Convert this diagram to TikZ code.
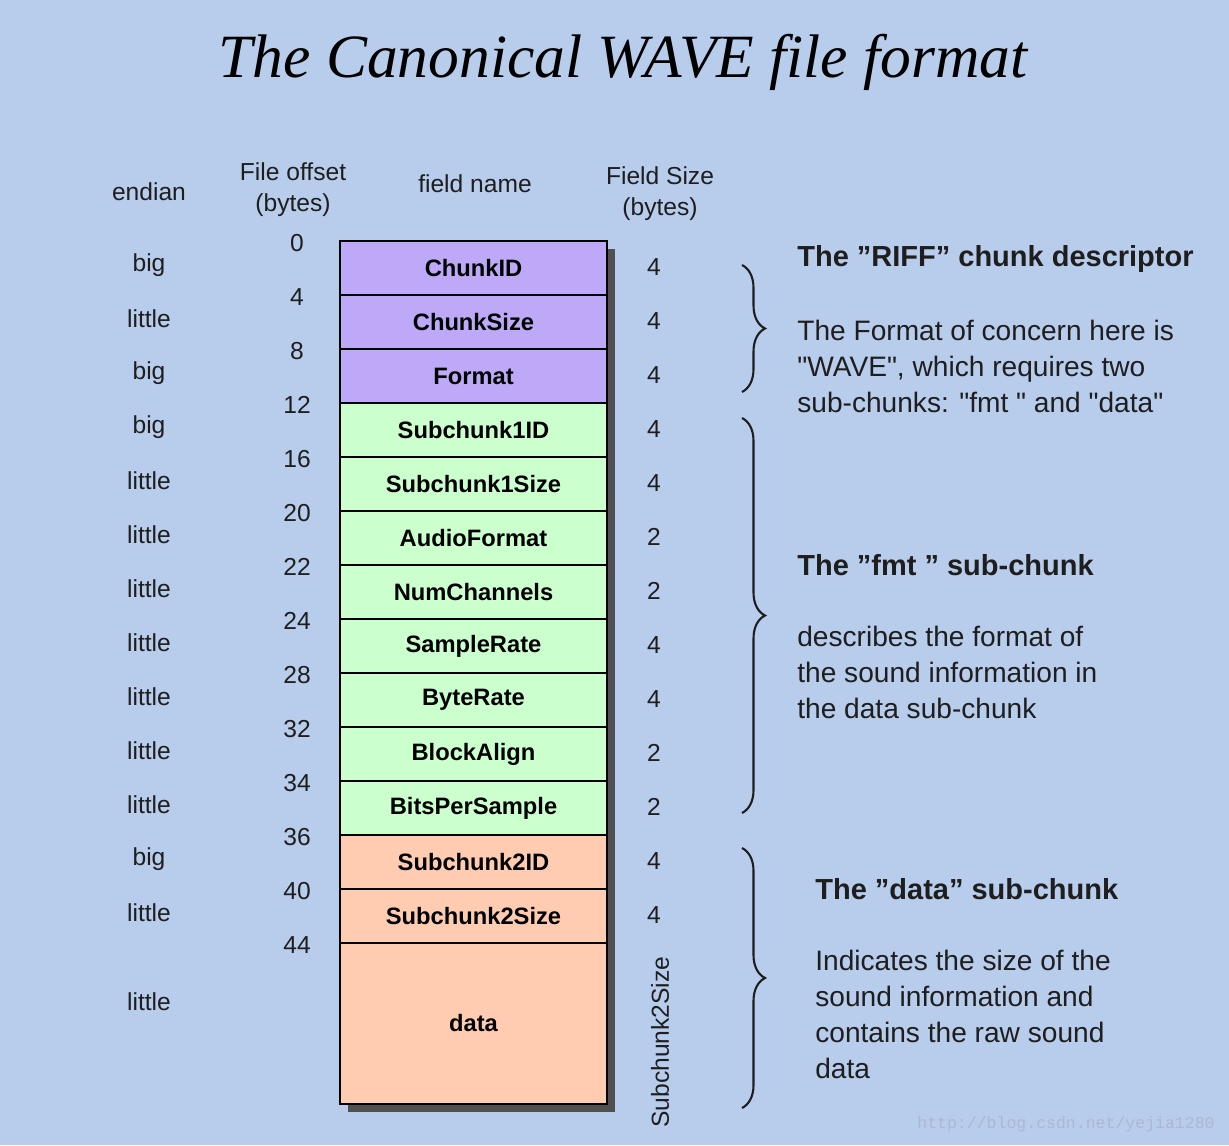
\documentclass[tikz,border=0pt]{standalone}
\usepackage{fontspec}
\setmainfont{Liberation Sans}
\newfontfamily\titlefont{Liberation Serif}
\setmonofont{Liberation Mono}
\usetikzlibrary{decorations.pathreplacing}

\definecolor{bgblue}{RGB}{184,204,236}
\definecolor{riffpurple}{RGB}{190,168,248}
\definecolor{fmtgreen}{RGB}{204,255,206}
\definecolor{datapeach}{RGB}{255,204,178}
\definecolor{shadowgray}{RGB}{80,80,80}
\definecolor{inkgray}{RGB}{30,30,30}

\tikzset{
  field/.style={draw=black, line width=1.6pt, minimum width=5.34cm, minimum height=1.08cm,
    inner sep=0pt, font=\fontsize{13.5}{16}\selectfont\bfseries},
  lbl/.style={font=\fontsize{14}{17}\selectfont, text=inkgray, inner sep=0pt},
  head/.style={font=\fontsize{16.5}{20}\selectfont\bfseries, text=inkgray, anchor=west, inner sep=0pt},
  desc/.style={font=\fontsize{16}{20.4}\selectfont, text=inkgray, align=left, anchor=north west, inner sep=0pt},
  curly/.style={decorate, decoration={brace, amplitude=0.46cm}, line width=1.2pt, draw=inkgray},
}
\newcommand{\qq}{\textquotedbl}

\begin{document}
\begin{tikzpicture}[x=0.02cm, y=-0.02cm]
        \useasboundingbox (0,0) rectangle (1229,1145);
        \fill[bgblue] (0,0) rectangle (1229,1145);
        %%Title
        \node[font=\titlefont\itshape\fontsize{35}{40}\selectfont, inner sep=0pt] (title) at (623,62) {The Canonical WAVE file format};
        %%Column heads
        \node[lbl] (hend) at (149,192) {endian};
        \node[lbl, align=center, font=\fontsize{14}{17.6}\selectfont] (hoff) at (293,190) {File offset\\(bytes)};
        \node[lbl] (hname) at (475,184) {field name};
        \node[lbl, align=center, font=\fontsize{14}{17.6}\selectfont] (hsize) at (660,194) {Field Size\\(bytes)};
        %%Shadow of the table
        \fill[shadowgray] (348,249) rectangle (615,1112);
        %%Fields
        \foreach \i/\fname/\endi/\nbytes/\col in {0/ChunkID/big/4/riffpurple, 1/ChunkSize/little/4/riffpurple,
            2/Format/big/4/riffpurple, 3/Subchunk1ID/big/4/fmtgreen, 4/Subchunk1Size/little/4/fmtgreen,
            5/AudioFormat/little/2/fmtgreen, 6/NumChannels/little/2/fmtgreen, 7/SampleRate/little/4/fmtgreen,
            8/ByteRate/little/4/fmtgreen, 9/BlockAlign/little/2/fmtgreen, 10/BitsPerSample/little/2/fmtgreen,
            11/Subchunk2ID/big/4/datapeach, 12/Subchunk2Size/little/4/datapeach}{
          \node[field, fill=\col] (f\i) at (473.5,268+54*\i) {\fname};
          \node[lbl] (e\i) at (149,265+54*\i) {\endi};
          \node[lbl] (s\i) at (654,267+54*\i) {\nbytes};
        }
        \node[field, fill=datapeach, minimum height=3.22cm] (f13) at (473.5,1023.5) {data};
        \node[lbl] (e13) at (149,1002) {little};
        \node[lbl, rotate=90] (s13) at (660,1042) {Subchunk2Size};
        %%Offsets
        \foreach \j/\off in {0/0,1/4,2/8,3/12,4/16,5/20,6/22,7/24,8/28,9/32,10/34,11/36,12/40,13/44}
          \node[lbl] (o\j) at (297,243+54*\j) {\off};
        %%Braces
        \draw[curly] (742,265) -- (742,392);
        \draw[curly] (742,418) -- (742,813);
        \draw[curly] (742,848) -- (742,1108);
        %%Descriptions
        \node[head] (riff) at (797,259) {The ''RIFF'' chunk descriptor};
        \node[desc] (riffdesc) at (797,320) {The Format of concern here is\\\qq WAVE\qq, which requires two\\sub-chunks: \qq fmt \qq{} and \qq data\qq};
        \node[head] (fmt) at (797,565) {The ''fmt '' sub-chunk};
        \node[desc] (fmtdesc) at (797,626) {describes the format of\\the sound information in\\the data sub-chunk};
        \node[head] (data) at (815,889) {The ''data'' sub-chunk};
        \node[desc] (datadesc) at (815,950) {Indicates the size of the\\sound information and\\contains the raw sound\\data};
        %%Watermark
        \node[font=\ttfamily\fontsize{9.4}{11}\selectfont, text=bgblue!75!gray, anchor=east, inner sep=0pt] (mark) at (1215,1124) {http://blog.csdn.net/yejia1280};
\end{tikzpicture}
\end{document}
